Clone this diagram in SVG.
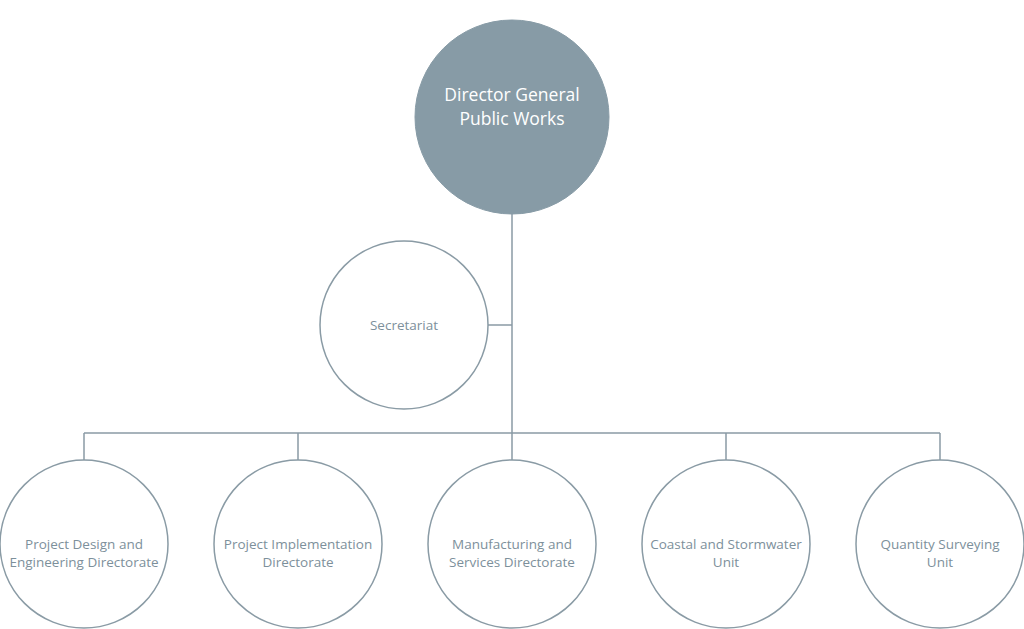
<svg xmlns="http://www.w3.org/2000/svg" width="1024" height="629" viewBox="0 0 1024 629">
<style>
.n{fill:#fff;stroke:#8a9ba5;stroke-width:1.5}
.t{font-family:"Open Sans","Liberation Sans",sans-serif;font-size:13.5px;fill:#7d909b;text-anchor:middle}
.c{stroke:#8a9ba5;stroke-width:1.5;fill:none}
</style>
<rect width="1024" height="629" fill="#fff"/>
<g id="connectors">
<path class="c" d="M512 214V460M488 325H512M84 433H940M84 433V460M298 433V460M726 433V460M940 433V460"/>
</g>
<g id="dg"><circle cx="512" cy="117" r="97" fill="#879ba6" stroke="#879ba6"/>
<text x="512" y="101" style="font-family:'Open Sans','Liberation Sans',sans-serif;font-size:17.5px;fill:#fff;text-anchor:middle"><tspan x="512" y="101">Director General</tspan><tspan x="512" y="125">Public Works</tspan></text></g>
<g id="sec"><circle class="n" cx="404" cy="325" r="84"/><text class="t" x="404" y="330">Secretariat</text></g>
<g id="n1"><circle class="n" cx="84" cy="544" r="84"/><text class="t"><tspan x="84" y="549">Project Design and</tspan><tspan x="84" y="567">Engineering Directorate</tspan></text></g>
<g id="n2"><circle class="n" cx="298" cy="544" r="84"/><text class="t"><tspan x="298" y="549">Project Implementation</tspan><tspan x="298" y="567">Directorate</tspan></text></g>
<g id="n3"><circle class="n" cx="512" cy="544" r="84"/><text class="t"><tspan x="512" y="549">Manufacturing and</tspan><tspan x="512" y="567">Services Directorate</tspan></text></g>
<g id="n4"><circle class="n" cx="726" cy="544" r="84"/><text class="t"><tspan x="726" y="549">Coastal and Stormwater</tspan><tspan x="726" y="567">Unit</tspan></text></g>
<g id="n5"><circle class="n" cx="940" cy="544" r="84"/><text class="t"><tspan x="940" y="549">Quantity Surveying</tspan><tspan x="940" y="567">Unit</tspan></text></g>
</svg>
